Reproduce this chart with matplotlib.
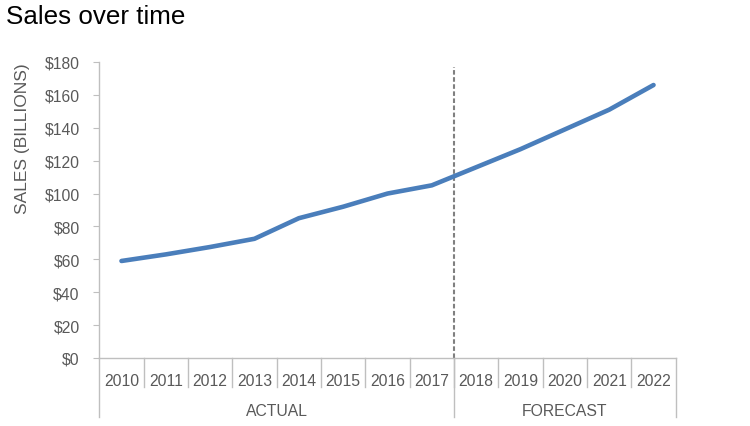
import matplotlib
matplotlib.use("Agg")
import matplotlib.pyplot as plt
from matplotlib.transforms import blended_transform_factory

plt.rcParams['font.family'] = ['Liberation Sans', 'DejaVu Sans']

years = ['2010', '2011', '2012', '2013', '2014', '2015', '2016', '2017',
         '2018', '2019', '2020', '2021', '2022']
sales = [59, 63, 67.5, 72.5, 85, 92, 100, 105, 116, 127, 139, 151, 166]
groups = ['ACTUAL', 'FORECAST']
group_sizes = [8, 5]
yticks = [0, 20, 40, 60, 80, 100, 120, 140, 160, 180]

W, H = 750, 427
fig = plt.figure(figsize=(W / 100, H / 100), dpi=100)
ax = fig.add_axes([99.3 / W, 1 - 359 / H, (675.7 - 99.3) / W, (359 - 63) / H])

line_color = '#4A7EBB'
axis_color = '#BFBFBF'
text_color = '#595959'

x = list(range(len(years)))
ax.plot(x, sales, color=line_color, lw=3.3, solid_capstyle='round',
        solid_joinstyle='round', zorder=3)

ax.set_xlim(-0.5, len(years) - 0.5)
ax.set_ylim(0, 180)
ax.set_yticks(yticks)
ax.set_yticklabels([f'${v}' for v in yticks], fontsize=11.3, color=text_color)
ax.tick_params(axis='y', length=4, width=0.8, color=axis_color, pad=10)

ax.set_xticks(x)
ax.set_xticklabels(years, fontsize=11.3, color=text_color)
ax.tick_params(axis='x', length=0, pad=10.5)

for s in ['top', 'right']:
    ax.spines[s].set_visible(False)
for s in ['left', 'bottom']:
    ax.spines[s].set_color(axis_color)
    ax.spines[s].set_linewidth(1.0)

trans = blended_transform_factory(ax.transData, ax.transAxes)
px = 1 / (359 - 63)
# year separators
for i in range(len(years) - 1):
    ax.plot([i + 0.5, i + 0.5], [0, -29 * px], transform=trans, color=axis_color,
            lw=1.0, clip_on=False)
# group separators and labels
start = -0.5
bounds = [start]
for g, n in zip(groups, group_sizes):
    end = start + n
    ax.text((start + end) / 2, -52 * px, g, transform=trans, ha='center',
            va='center', fontsize=11.3, color=text_color)
    bounds.append(end)
    start = end
for b in bounds:
    ax.plot([b, b], [0, -59 * px], transform=trans, color=axis_color, lw=1.0,
            clip_on=False)

# forecast divider
div = group_sizes[0] - 0.5
ax.plot([div, div], [0, 1 - 5 * px], transform=trans, color='#808080', lw=1.5,
        ls=(0, (2.2, 1.2)), clip_on=False, zorder=2)

fig.text(23 / W, 1 - 139 / H, 'SALES (BILLIONS)', rotation=90, ha='center',
         va='center', fontsize=12.5, color=text_color)
fig.text(6 / W, 1 - 17 / H, 'Sales over time', ha='left', va='center',
         fontsize=18.7, color='black')

fig.savefig('out.png', dpi=100)
